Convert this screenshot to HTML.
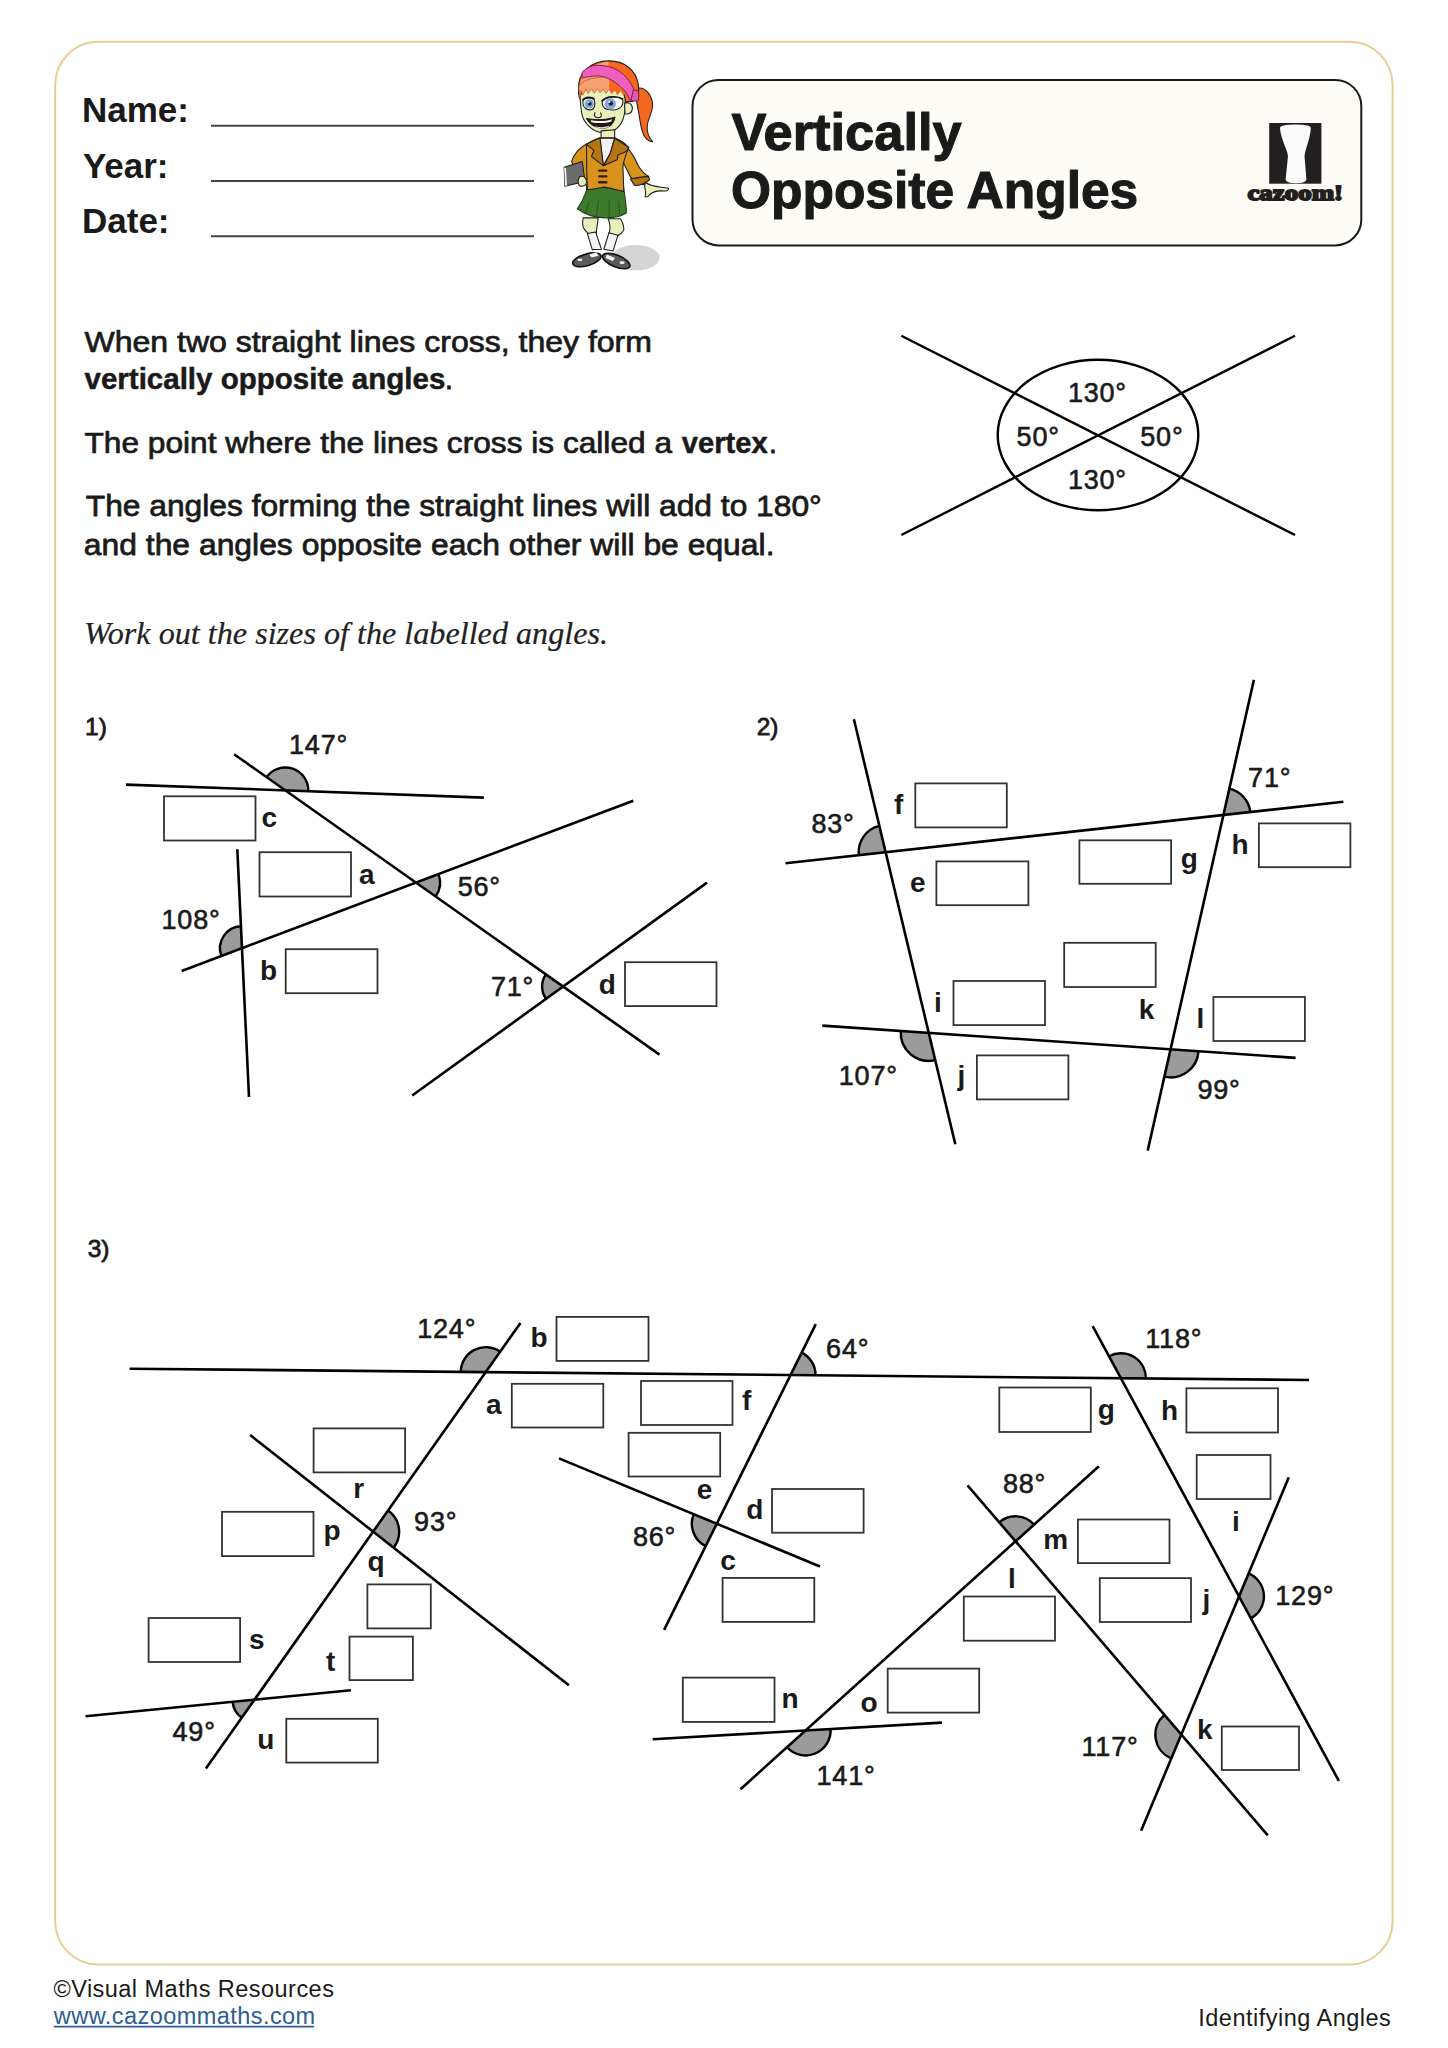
<!DOCTYPE html>
<html><head><meta charset="utf-8"><title>Vertically Opposite Angles</title>
<style>html,body{margin:0;padding:0;background:#fff;}svg{display:block;}</style></head>
<body><svg width="1448" height="2048" viewBox="0 0 1448 2048">
<rect width="1448" height="2048" fill="#fff"/>
<rect x="55.2" y="41.8" width="1337.4" height="1922.7" rx="43" ry="43" fill="none" stroke="#e8cd92" stroke-width="2.0"/>
<text x="82" y="122.4" font-family="'Liberation Sans', sans-serif" font-size="35" font-weight="bold" font-style="normal" fill="#1a1a1a">Name:</text>
<text x="82.9" y="177.9" font-family="'Liberation Sans', sans-serif" font-size="35" font-weight="bold" font-style="normal" fill="#1a1a1a">Year:</text>
<text x="82" y="233.1" font-family="'Liberation Sans', sans-serif" font-size="35" font-weight="bold" font-style="normal" fill="#1a1a1a">Date:</text>
<line x1="211" y1="125.7" x2="534" y2="125.7" stroke="#444" stroke-width="2"/>
<line x1="211" y1="181.1" x2="534" y2="181.1" stroke="#444" stroke-width="2"/>
<line x1="211" y1="236.3" x2="534" y2="236.3" stroke="#444" stroke-width="2"/>
<rect x="692.5" y="80" width="668.8" height="165.4" rx="26" ry="26" fill="#fdfcf6" stroke="#1a1a1a" stroke-width="2.0"/>
<text transform="translate(731.4 0) scale(1.0184 1)" x="0" y="150.2" font-family="'Liberation Sans', sans-serif" font-size="51.5" font-weight="bold" font-style="normal" fill="#1a1a1a" stroke="#1a1a1a" stroke-width="1.1" stroke-linejoin="round">Vertically</text>
<text transform="translate(730.9 0) scale(1.0003 1)" x="0" y="208.1" font-family="'Liberation Sans', sans-serif" font-size="51.5" font-weight="bold" font-style="normal" fill="#1a1a1a" stroke="#1a1a1a" stroke-width="1.1" stroke-linejoin="round">Opposite Angles</text>
<text transform="translate(84.5 0) scale(1.0671 1)" x="0" y="352" font-family="'Liberation Sans', sans-serif" font-size="30" font-weight="normal" font-style="normal" fill="#1a1a1a" stroke="#1a1a1a" stroke-width="0.75" stroke-linejoin="round">When two straight lines cross, they form</text>
<text transform="translate(84.5 0) scale(0.9843 1)" x="0" y="389.1" font-family="'Liberation Sans', sans-serif" font-size="30" font-weight="bold" font-style="normal" fill="#1a1a1a" stroke="#1a1a1a" stroke-width="0.5" stroke-linejoin="round">vertically opposite angles</text>
<text x="444.8" y="389.1" font-family="'Liberation Sans', sans-serif" font-size="30" font-weight="normal" font-style="normal" fill="#1a1a1a" stroke="#1a1a1a" stroke-width="0.75" stroke-linejoin="round">.</text>
<text transform="translate(84.5 0) scale(1.0552 1)" x="0" y="452.6" font-family="'Liberation Sans', sans-serif" font-size="30" font-weight="normal" font-style="normal" fill="#1a1a1a" stroke="#1a1a1a" stroke-width="0.75" stroke-linejoin="round">The point where the lines cross is called a</text>
<text transform="translate(681.7 0) scale(0.9720 1)" x="0" y="452.6" font-family="'Liberation Sans', sans-serif" font-size="30" font-weight="bold" font-style="normal" fill="#1a1a1a" stroke="#1a1a1a" stroke-width="0.5" stroke-linejoin="round">vertex</text>
<text x="768.8" y="452.6" font-family="'Liberation Sans', sans-serif" font-size="30" font-weight="normal" font-style="normal" fill="#1a1a1a" stroke="#1a1a1a" stroke-width="0.75" stroke-linejoin="round">.</text>
<text transform="translate(85.8 0) scale(1.0582 1)" x="0" y="516.5" font-family="'Liberation Sans', sans-serif" font-size="30" font-weight="normal" font-style="normal" fill="#1a1a1a" stroke="#1a1a1a" stroke-width="0.75" stroke-linejoin="round">The angles forming the straight lines will add to 180°</text>
<text transform="translate(83.8 0) scale(1.0621 1)" x="0" y="555.4" font-family="'Liberation Sans', sans-serif" font-size="30" font-weight="normal" font-style="normal" fill="#1a1a1a" stroke="#1a1a1a" stroke-width="0.75" stroke-linejoin="round">and the angles opposite each other will be equal.</text>
<text transform="translate(83.9 0) scale(1.0216 1)" x="0" y="644.4" font-family="'Liberation Serif', serif" font-size="31.5" font-weight="normal" font-style="italic" fill="#222" stroke="#222" stroke-width="0.2" stroke-linejoin="round">Work out the sizes of the labelled angles.</text>
<line x1="901.3" y1="335.8" x2="1295" y2="535" stroke="#000" stroke-width="2.4"/>
<line x1="901.3" y1="535" x2="1295" y2="335.8" stroke="#000" stroke-width="2.4"/>
<ellipse cx="1098" cy="435" rx="100.3" ry="75.2" fill="none" stroke="#000" stroke-width="2.4"/>
<text x="1067.9" y="401.6" font-family="'Liberation Sans', sans-serif" font-size="27" font-weight="normal" font-style="normal" fill="#1a1a1a" letter-spacing="0.8" stroke="#1a1a1a" stroke-width="0.6" stroke-linejoin="round">130°</text>
<text x="1016.6" y="445.7" font-family="'Liberation Sans', sans-serif" font-size="27" font-weight="normal" font-style="normal" fill="#1a1a1a" letter-spacing="0.8" stroke="#1a1a1a" stroke-width="0.6" stroke-linejoin="round">50°</text>
<text x="1140.3" y="445.7" font-family="'Liberation Sans', sans-serif" font-size="27" font-weight="normal" font-style="normal" fill="#1a1a1a" letter-spacing="0.8" stroke="#1a1a1a" stroke-width="0.6" stroke-linejoin="round">50°</text>
<text x="1067.9" y="489.1" font-family="'Liberation Sans', sans-serif" font-size="27" font-weight="normal" font-style="normal" fill="#1a1a1a" letter-spacing="0.8" stroke="#1a1a1a" stroke-width="0.6" stroke-linejoin="round">130°</text>
<text x="85" y="734.8" font-family="'Liberation Sans', sans-serif" font-size="24.5" font-weight="normal" font-style="normal" fill="#1a1a1a" stroke="#1a1a1a" stroke-width="0.8" stroke-linejoin="round">1)</text>
<path d="M285.3 790.4L308.3 791.2A23 23 0 0 0 266.6 777.1Z" fill="#9b9b9b" stroke="none"/>
<path d="M308.3 791.2A23 23 0 0 0 266.6 777.1" fill="none" stroke="#000" stroke-width="2.4"/>
<path d="M416 882.6L435.6 896.5A24 24 0 0 0 438.5 874.2Z" fill="#9b9b9b" stroke="none"/>
<path d="M435.6 896.5A24 24 0 0 0 438.5 874.2" fill="none" stroke="#000" stroke-width="2.4"/>
<path d="M242 948.3L221.4 956A22 22 0 0 1 240.9 926.3Z" fill="#9b9b9b" stroke="none"/>
<path d="M221.4 956A22 22 0 0 1 240.9 926.3" fill="none" stroke="#000" stroke-width="2.4"/>
<path d="M563.1 986.5L545.9 974.4A21 21 0 0 0 546.1 998.8Z" fill="#9b9b9b" stroke="none"/>
<path d="M545.9 974.4A21 21 0 0 0 546.1 998.8" fill="none" stroke="#000" stroke-width="2.4"/>
<line x1="126" y1="784.6" x2="483.8" y2="797.6" stroke="#000" stroke-width="2.6"/>
<line x1="234.1" y1="754.2" x2="659.5" y2="1054.6" stroke="#000" stroke-width="2.6"/>
<line x1="181.7" y1="971" x2="633.3" y2="800.7" stroke="#000" stroke-width="2.6"/>
<line x1="237.3" y1="849.3" x2="249" y2="1097" stroke="#000" stroke-width="2.6"/>
<line x1="412.2" y1="1095.5" x2="707" y2="882.6" stroke="#000" stroke-width="2.6"/>
<rect x="164" y="796.3" width="91.5" height="44.2" fill="#fff" stroke="#333" stroke-width="1.8"/>
<text x="261.6" y="827.4" font-family="'Liberation Sans', sans-serif" font-size="28" font-weight="bold" font-style="normal" fill="#1a1a1a">c</text>
<rect x="259.5" y="852.2" width="91.5" height="44.3" fill="#fff" stroke="#333" stroke-width="1.8"/>
<text x="359" y="884" font-family="'Liberation Sans', sans-serif" font-size="28" font-weight="bold" font-style="normal" fill="#1a1a1a">a</text>
<text x="289" y="753.8" font-family="'Liberation Sans', sans-serif" font-size="27" font-weight="normal" font-style="normal" fill="#1a1a1a" letter-spacing="0.8" stroke="#1a1a1a" stroke-width="0.6" stroke-linejoin="round">147°</text>
<text x="161.5" y="929.2" font-family="'Liberation Sans', sans-serif" font-size="27" font-weight="normal" font-style="normal" fill="#1a1a1a" letter-spacing="0.8" stroke="#1a1a1a" stroke-width="0.6" stroke-linejoin="round">108°</text>
<text x="457.7" y="895.9" font-family="'Liberation Sans', sans-serif" font-size="27" font-weight="normal" font-style="normal" fill="#1a1a1a" letter-spacing="0.8" stroke="#1a1a1a" stroke-width="0.6" stroke-linejoin="round">56°</text>
<text x="260" y="980.2" font-family="'Liberation Sans', sans-serif" font-size="28" font-weight="bold" font-style="normal" fill="#1a1a1a">b</text>
<rect x="285.7" y="949.2" width="91.8" height="44" fill="#fff" stroke="#333" stroke-width="1.8"/>
<text x="490.9" y="996.4" font-family="'Liberation Sans', sans-serif" font-size="27" font-weight="normal" font-style="normal" fill="#1a1a1a" letter-spacing="0.8" stroke="#1a1a1a" stroke-width="0.6" stroke-linejoin="round">71°</text>
<text x="598.8" y="993.5" font-family="'Liberation Sans', sans-serif" font-size="28" font-weight="bold" font-style="normal" fill="#1a1a1a">d</text>
<rect x="625" y="962.2" width="91.5" height="43.9" fill="#fff" stroke="#333" stroke-width="1.8"/>
<text x="756.7" y="735.1" font-family="'Liberation Sans', sans-serif" font-size="24.5" font-weight="normal" font-style="normal" fill="#1a1a1a" stroke="#1a1a1a" stroke-width="0.8" stroke-linejoin="round">2)</text>
<path d="M885.6 852.2L858.8 855.1A27 27 0 0 1 879.4 825.9Z" fill="#9b9b9b" stroke="none"/>
<path d="M858.8 855.1A27 27 0 0 1 879.4 825.9" fill="none" stroke="#000" stroke-width="2.4"/>
<path d="M1223.4 815L1250.3 812.1A27 27 0 0 0 1229.4 788.7Z" fill="#9b9b9b" stroke="none"/>
<path d="M1250.3 812.1A27 27 0 0 0 1229.4 788.7" fill="none" stroke="#000" stroke-width="2.4"/>
<path d="M928.7 1032.9L900.8 1031A28 28 0 0 0 935.2 1060.1Z" fill="#9b9b9b" stroke="none"/>
<path d="M900.8 1031A28 28 0 0 0 935.2 1060.1" fill="none" stroke="#000" stroke-width="2.4"/>
<path d="M1170.5 1049.4L1198.5 1051.3A28 28 0 0 1 1164.4 1076.7Z" fill="#9b9b9b" stroke="none"/>
<path d="M1198.5 1051.3A28 28 0 0 1 1164.4 1076.7" fill="none" stroke="#000" stroke-width="2.4"/>
<line x1="853.9" y1="719.2" x2="955.3" y2="1144.2" stroke="#000" stroke-width="2.6"/>
<line x1="785.5" y1="863.2" x2="1343.4" y2="801.8" stroke="#000" stroke-width="2.6"/>
<line x1="1253.9" y1="679.9" x2="1147.7" y2="1150.6" stroke="#000" stroke-width="2.6"/>
<line x1="822.3" y1="1025.6" x2="1295.6" y2="1057.9" stroke="#000" stroke-width="2.6"/>
<text x="811.4" y="832.8" font-family="'Liberation Sans', sans-serif" font-size="27" font-weight="normal" font-style="normal" fill="#1a1a1a" letter-spacing="0.8" stroke="#1a1a1a" stroke-width="0.6" stroke-linejoin="round">83°</text>
<text x="894.1" y="814.2" font-family="'Liberation Sans', sans-serif" font-size="28" font-weight="bold" font-style="normal" fill="#1a1a1a">f</text>
<rect x="915.3" y="783.4" width="91.5" height="44" fill="#fff" stroke="#333" stroke-width="1.8"/>
<text x="909.9" y="891.8" font-family="'Liberation Sans', sans-serif" font-size="28" font-weight="bold" font-style="normal" fill="#1a1a1a">e</text>
<rect x="936.4" y="861.4" width="92" height="43.8" fill="#fff" stroke="#333" stroke-width="1.8"/>
<rect x="1079.4" y="840.3" width="91.7" height="43.5" fill="#fff" stroke="#333" stroke-width="1.8"/>
<text x="1180.7" y="867.7" font-family="'Liberation Sans', sans-serif" font-size="28" font-weight="bold" font-style="normal" fill="#1a1a1a">g</text>
<text x="1248.1" y="787.3" font-family="'Liberation Sans', sans-serif" font-size="27" font-weight="normal" font-style="normal" fill="#1a1a1a" letter-spacing="0.8" stroke="#1a1a1a" stroke-width="0.6" stroke-linejoin="round">71°</text>
<text x="1231.5" y="854" font-family="'Liberation Sans', sans-serif" font-size="28" font-weight="bold" font-style="normal" fill="#1a1a1a">h</text>
<rect x="1258.9" y="823.4" width="91.5" height="43.8" fill="#fff" stroke="#333" stroke-width="1.8"/>
<rect x="1064.2" y="942.8" width="91.5" height="44.2" fill="#fff" stroke="#333" stroke-width="1.8"/>
<text x="934.1" y="1012.4" font-family="'Liberation Sans', sans-serif" font-size="28" font-weight="bold" font-style="normal" fill="#1a1a1a">i</text>
<rect x="953.5" y="981" width="91.5" height="44.1" fill="#fff" stroke="#333" stroke-width="1.8"/>
<text x="1138.8" y="1018.8" font-family="'Liberation Sans', sans-serif" font-size="28" font-weight="bold" font-style="normal" fill="#1a1a1a">k</text>
<text x="1196.4" y="1028" font-family="'Liberation Sans', sans-serif" font-size="28" font-weight="bold" font-style="normal" fill="#1a1a1a">l</text>
<rect x="1213.4" y="997" width="91.5" height="44" fill="#fff" stroke="#333" stroke-width="1.8"/>
<text x="838.8" y="1084.9" font-family="'Liberation Sans', sans-serif" font-size="27" font-weight="normal" font-style="normal" fill="#1a1a1a" letter-spacing="0.8" stroke="#1a1a1a" stroke-width="0.6" stroke-linejoin="round">107°</text>
<text x="957.4" y="1085.2" font-family="'Liberation Sans', sans-serif" font-size="28" font-weight="bold" font-style="normal" fill="#1a1a1a">j</text>
<rect x="976.9" y="1055.4" width="91.5" height="44" fill="#fff" stroke="#333" stroke-width="1.8"/>
<text x="1197.4" y="1099.3" font-family="'Liberation Sans', sans-serif" font-size="27" font-weight="normal" font-style="normal" fill="#1a1a1a" letter-spacing="0.8" stroke="#1a1a1a" stroke-width="0.6" stroke-linejoin="round">99°</text>
<text x="87.7" y="1257.3" font-family="'Liberation Sans', sans-serif" font-size="24.5" font-weight="normal" font-style="normal" fill="#1a1a1a" stroke="#1a1a1a" stroke-width="0.8" stroke-linejoin="round">3)</text>
<path d="M485.8 1372.1L460.8 1371.9A25 25 0 0 1 500.2 1351.7Z" fill="#9b9b9b" stroke="none"/>
<path d="M460.8 1371.9A25 25 0 0 1 500.2 1351.7" fill="none" stroke="#000" stroke-width="2.4"/>
<path d="M373.1 1531.6L388.1 1510.4A26 26 0 0 1 393.6 1547.7Z" fill="#9b9b9b" stroke="none"/>
<path d="M388.1 1510.4A26 26 0 0 1 393.6 1547.7" fill="none" stroke="#000" stroke-width="2.4"/>
<path d="M254.5 1699.7L232.6 1701.8A22 22 0 0 0 241.8 1717.7Z" fill="#9b9b9b" stroke="none"/>
<path d="M232.6 1701.8A22 22 0 0 0 241.8 1717.7" fill="none" stroke="#000" stroke-width="2.4"/>
<path d="M790.5 1375L815.5 1375.3A25 25 0 0 0 801.6 1352.6Z" fill="#9b9b9b" stroke="none"/>
<path d="M815.5 1375.3A25 25 0 0 0 801.6 1352.6" fill="none" stroke="#000" stroke-width="2.4"/>
<path d="M716.8 1523.7L693.7 1514.2A25 25 0 0 0 705.7 1546.1Z" fill="#9b9b9b" stroke="none"/>
<path d="M693.7 1514.2A25 25 0 0 0 705.7 1546.1" fill="none" stroke="#000" stroke-width="2.4"/>
<path d="M805.7 1730.5L787.1 1747.2A25 25 0 0 0 830.6 1729Z" fill="#9b9b9b" stroke="none"/>
<path d="M787.1 1747.2A25 25 0 0 0 830.6 1729" fill="none" stroke="#000" stroke-width="2.4"/>
<path d="M1015.5 1541.3L999.3 1522.3A25 25 0 0 1 1034.1 1524.6Z" fill="#9b9b9b" stroke="none"/>
<path d="M999.3 1522.3A25 25 0 0 1 1034.1 1524.6" fill="none" stroke="#000" stroke-width="2.4"/>
<path d="M1120.9 1378.2L1109 1356.2A25 25 0 0 1 1145.9 1378.4Z" fill="#9b9b9b" stroke="none"/>
<path d="M1109 1356.2A25 25 0 0 1 1145.9 1378.4" fill="none" stroke="#000" stroke-width="2.4"/>
<path d="M1239 1596.4L1248.6 1573.4A25 25 0 0 1 1250.9 1618.4Z" fill="#9b9b9b" stroke="none"/>
<path d="M1248.6 1573.4A25 25 0 0 1 1250.9 1618.4" fill="none" stroke="#000" stroke-width="2.4"/>
<path d="M1181.3 1734.5L1164.4 1714.8A26 26 0 0 0 1171.3 1758.5Z" fill="#9b9b9b" stroke="none"/>
<path d="M1164.4 1714.8A26 26 0 0 0 1171.3 1758.5" fill="none" stroke="#000" stroke-width="2.4"/>
<line x1="129.6" y1="1368.7" x2="1309" y2="1380" stroke="#000" stroke-width="2.6"/>
<line x1="520.5" y1="1322.9" x2="205.9" y2="1768.5" stroke="#000" stroke-width="2.6"/>
<line x1="250.2" y1="1435.1" x2="568.9" y2="1685.3" stroke="#000" stroke-width="2.6"/>
<line x1="85.6" y1="1716.3" x2="350.9" y2="1690.2" stroke="#000" stroke-width="2.6"/>
<line x1="815.8" y1="1324.1" x2="664.1" y2="1629.9" stroke="#000" stroke-width="2.6"/>
<line x1="559" y1="1458.4" x2="820" y2="1566.5" stroke="#000" stroke-width="2.6"/>
<line x1="1098.9" y1="1466.2" x2="740.5" y2="1789.2" stroke="#000" stroke-width="2.6"/>
<line x1="652.7" y1="1739.3" x2="941.9" y2="1722.6" stroke="#000" stroke-width="2.6"/>
<line x1="967.5" y1="1485.3" x2="1267.8" y2="1835.4" stroke="#000" stroke-width="2.6"/>
<line x1="1092.7" y1="1326.1" x2="1338.9" y2="1781" stroke="#000" stroke-width="2.6"/>
<line x1="1288.8" y1="1477.3" x2="1141.1" y2="1830.7" stroke="#000" stroke-width="2.6"/>
<text x="417.2" y="1337.7" font-family="'Liberation Sans', sans-serif" font-size="27" font-weight="normal" font-style="normal" fill="#1a1a1a" letter-spacing="0.8" stroke="#1a1a1a" stroke-width="0.6" stroke-linejoin="round">124°</text>
<text x="530.4" y="1347.2" font-family="'Liberation Sans', sans-serif" font-size="28" font-weight="bold" font-style="normal" fill="#1a1a1a">b</text>
<rect x="556.5" y="1316.9" width="92" height="44" fill="#fff" stroke="#333" stroke-width="1.8"/>
<text x="486.1" y="1414.4" font-family="'Liberation Sans', sans-serif" font-size="28" font-weight="bold" font-style="normal" fill="#1a1a1a">a</text>
<rect x="511.8" y="1383.8" width="91.5" height="43.7" fill="#fff" stroke="#333" stroke-width="1.8"/>
<rect x="641" y="1381" width="91.5" height="44" fill="#fff" stroke="#333" stroke-width="1.8"/>
<text x="742" y="1409.9" font-family="'Liberation Sans', sans-serif" font-size="28" font-weight="bold" font-style="normal" fill="#1a1a1a">f</text>
<rect x="628.6" y="1432.8" width="91.6" height="43.7" fill="#fff" stroke="#333" stroke-width="1.8"/>
<text x="696.7" y="1499.2" font-family="'Liberation Sans', sans-serif" font-size="28" font-weight="bold" font-style="normal" fill="#1a1a1a">e</text>
<text x="826.1" y="1358.1" font-family="'Liberation Sans', sans-serif" font-size="27" font-weight="normal" font-style="normal" fill="#1a1a1a" letter-spacing="0.8" stroke="#1a1a1a" stroke-width="0.6" stroke-linejoin="round">64°</text>
<text x="746.3" y="1519.3" font-family="'Liberation Sans', sans-serif" font-size="28" font-weight="bold" font-style="normal" fill="#1a1a1a">d</text>
<rect x="772" y="1489" width="91.6" height="43.7" fill="#fff" stroke="#333" stroke-width="1.8"/>
<text x="632.9" y="1545.7" font-family="'Liberation Sans', sans-serif" font-size="27" font-weight="normal" font-style="normal" fill="#1a1a1a" letter-spacing="0.8" stroke="#1a1a1a" stroke-width="0.6" stroke-linejoin="round">86°</text>
<text x="720.2" y="1569.7" font-family="'Liberation Sans', sans-serif" font-size="28" font-weight="bold" font-style="normal" fill="#1a1a1a">c</text>
<rect x="722.6" y="1577.9" width="91.7" height="44" fill="#fff" stroke="#333" stroke-width="1.8"/>
<rect x="313.6" y="1428.4" width="91.5" height="44" fill="#fff" stroke="#333" stroke-width="1.8"/>
<text x="353.2" y="1497.9" font-family="'Liberation Sans', sans-serif" font-size="28" font-weight="bold" font-style="normal" fill="#1a1a1a">r</text>
<rect x="222" y="1511.8" width="91.5" height="44.3" fill="#fff" stroke="#333" stroke-width="1.8"/>
<text x="323.4" y="1539.7" font-family="'Liberation Sans', sans-serif" font-size="28" font-weight="bold" font-style="normal" fill="#1a1a1a">p</text>
<text x="414.1" y="1530.9" font-family="'Liberation Sans', sans-serif" font-size="27" font-weight="normal" font-style="normal" fill="#1a1a1a" letter-spacing="0.8" stroke="#1a1a1a" stroke-width="0.6" stroke-linejoin="round">93°</text>
<text x="367.6" y="1570.7" font-family="'Liberation Sans', sans-serif" font-size="28" font-weight="bold" font-style="normal" fill="#1a1a1a">q</text>
<rect x="367.4" y="1584.4" width="63.4" height="44" fill="#fff" stroke="#333" stroke-width="1.8"/>
<rect x="148.6" y="1618" width="91.5" height="44" fill="#fff" stroke="#333" stroke-width="1.8"/>
<text x="249.1" y="1649" font-family="'Liberation Sans', sans-serif" font-size="28" font-weight="bold" font-style="normal" fill="#1a1a1a">s</text>
<text x="326.1" y="1671" font-family="'Liberation Sans', sans-serif" font-size="28" font-weight="bold" font-style="normal" fill="#1a1a1a">t</text>
<rect x="349.5" y="1636.6" width="63.4" height="43.5" fill="#fff" stroke="#333" stroke-width="1.8"/>
<text x="172.5" y="1741.1" font-family="'Liberation Sans', sans-serif" font-size="27" font-weight="normal" font-style="normal" fill="#1a1a1a" letter-spacing="0.8" stroke="#1a1a1a" stroke-width="0.6" stroke-linejoin="round">49°</text>
<text x="257.2" y="1749.4" font-family="'Liberation Sans', sans-serif" font-size="28" font-weight="bold" font-style="normal" fill="#1a1a1a">u</text>
<rect x="286.3" y="1718.8" width="91.5" height="43.8" fill="#fff" stroke="#333" stroke-width="1.8"/>
<rect x="682.8" y="1677.6" width="91.7" height="44.3" fill="#fff" stroke="#333" stroke-width="1.8"/>
<text x="781.4" y="1707.7" font-family="'Liberation Sans', sans-serif" font-size="28" font-weight="bold" font-style="normal" fill="#1a1a1a">n</text>
<text x="860.5" y="1712" font-family="'Liberation Sans', sans-serif" font-size="28" font-weight="bold" font-style="normal" fill="#1a1a1a">o</text>
<rect x="887.7" y="1668.6" width="91.5" height="44" fill="#fff" stroke="#333" stroke-width="1.8"/>
<text x="816.5" y="1785.1" font-family="'Liberation Sans', sans-serif" font-size="27" font-weight="normal" font-style="normal" fill="#1a1a1a" letter-spacing="0.8" stroke="#1a1a1a" stroke-width="0.6" stroke-linejoin="round">141°</text>
<text x="1145.3" y="1347.5" font-family="'Liberation Sans', sans-serif" font-size="27" font-weight="normal" font-style="normal" fill="#1a1a1a" letter-spacing="0.8" stroke="#1a1a1a" stroke-width="0.6" stroke-linejoin="round">118°</text>
<rect x="999.3" y="1387.5" width="91.5" height="44.5" fill="#fff" stroke="#333" stroke-width="1.8"/>
<text x="1097.8" y="1418.5" font-family="'Liberation Sans', sans-serif" font-size="28" font-weight="bold" font-style="normal" fill="#1a1a1a">g</text>
<text x="1161" y="1419.9" font-family="'Liberation Sans', sans-serif" font-size="28" font-weight="bold" font-style="normal" fill="#1a1a1a">h</text>
<rect x="1186.4" y="1388.3" width="91.6" height="44.2" fill="#fff" stroke="#333" stroke-width="1.8"/>
<rect x="1196.7" y="1455" width="73.8" height="44" fill="#fff" stroke="#333" stroke-width="1.8"/>
<text x="1232" y="1530.5" font-family="'Liberation Sans', sans-serif" font-size="28" font-weight="bold" font-style="normal" fill="#1a1a1a">i</text>
<text x="1002.9" y="1493" font-family="'Liberation Sans', sans-serif" font-size="27" font-weight="normal" font-style="normal" fill="#1a1a1a" letter-spacing="0.8" stroke="#1a1a1a" stroke-width="0.6" stroke-linejoin="round">88°</text>
<text x="1043.2" y="1549.1" font-family="'Liberation Sans', sans-serif" font-size="28" font-weight="bold" font-style="normal" fill="#1a1a1a">m</text>
<rect x="1077.9" y="1519.5" width="91.6" height="43.6" fill="#fff" stroke="#333" stroke-width="1.8"/>
<text x="1007.9" y="1587.6" font-family="'Liberation Sans', sans-serif" font-size="28" font-weight="bold" font-style="normal" fill="#1a1a1a">l</text>
<rect x="963.8" y="1596.5" width="91.2" height="44.2" fill="#fff" stroke="#333" stroke-width="1.8"/>
<rect x="1099.8" y="1578.1" width="91.2" height="43.9" fill="#fff" stroke="#333" stroke-width="1.8"/>
<text x="1202.5" y="1609" font-family="'Liberation Sans', sans-serif" font-size="28" font-weight="bold" font-style="normal" fill="#1a1a1a">j</text>
<text x="1275.3" y="1605.4" font-family="'Liberation Sans', sans-serif" font-size="27" font-weight="normal" font-style="normal" fill="#1a1a1a" letter-spacing="0.8" stroke="#1a1a1a" stroke-width="0.6" stroke-linejoin="round">129°</text>
<text x="1081.5" y="1756.4" font-family="'Liberation Sans', sans-serif" font-size="27" font-weight="normal" font-style="normal" fill="#1a1a1a" letter-spacing="0.8" stroke="#1a1a1a" stroke-width="0.6" stroke-linejoin="round">117°</text>
<text x="1196.9" y="1738.5" font-family="'Liberation Sans', sans-serif" font-size="28" font-weight="bold" font-style="normal" fill="#1a1a1a">k</text>
<rect x="1221.8" y="1726.5" width="77.2" height="43.5" fill="#fff" stroke="#333" stroke-width="1.8"/>
<text x="53.4" y="1996.6" font-family="'Liberation Sans', sans-serif" font-size="23.5" font-weight="normal" font-style="normal" fill="#1a1a1a" textLength="280.5" lengthAdjust="spacing">©Visual Maths Resources</text>
<text x="53.8" y="2024.1" font-family="'Liberation Sans', sans-serif" font-size="23.5" font-weight="normal" font-style="normal" fill="#2e5c94" textLength="261.4" lengthAdjust="spacing">www.cazoommaths.com</text>
<line x1="53.8" y1="2026.6" x2="314" y2="2026.6" stroke="#2e5c94" stroke-width="1.6"/>
<text x="1198.3" y="2026.2" font-family="'Liberation Sans', sans-serif" font-size="23.5" font-weight="normal" font-style="normal" fill="#1a1a1a" textLength="192.5" lengthAdjust="spacing">Identifying Angles</text>
<rect x="1269.2" y="123" width="52.2" height="60.7" fill="#231f20"/>
<path d="M1280 128 Q1280 124.5 1295.4 124.5 Q1310.8 124.5 1310.8 128 C1310.5 138 1305.2 149 1304.5 156 L1306.4 179.5 Q1306.4 183.2 1296 183.2 Q1285.6 183.2 1285.6 179.5 L1288 156 C1287.2 149 1280.4 138 1280 128Z" fill="#fbfbfb"/>
<text transform="translate(1247.4 0) scale(1.2530 1)" x="0" y="199.8" font-family="'Liberation Serif', serif" font-size="21.5" font-weight="bold" font-style="normal" fill="#231f20" stroke="#231f20" stroke-width="1.8" stroke-linejoin="round">cazoom!</text>
<g transform="translate(540 50) scale(0.11722)"><ellipse cx="815" cy="1772" rx="205" ry="108" fill="#d4d4d4"/><path d="M820 330 C900 300 965 400 960 480 C955 560 905 600 915 680 C920 730 940 760 962 782 C925 785 890 750 875 700 C850 620 850 560 835 500 C825 450 815 400 820 330Z" fill="#f5661f" stroke="#1c1c1c" stroke-width="9" stroke-linejoin="round"/><path d="M330 330 C320 200 430 95 585 93 C720 92 820 170 840 300 C850 360 830 420 790 440 L360 440 C335 420 325 380 330 330Z" fill="#f7671e" stroke="#1c1c1c" stroke-width="9" stroke-linejoin="round"/><path d="M336 325 C340 215 440 110 585 100 L590 440 L360 430 C340 410 334 370 336 325Z" fill="#f9a070"/><path d="M343 414 C340 340 420 300 560 300 C680 300 730 350 726 450 C730 560 700 640 640 680 C600 705 560 712 525 706 C440 690 370 620 356 540 C350 500 344 460 343 414Z" fill="#e9f0b9" stroke="#1c1c1c" stroke-width="9" stroke-linejoin="round"/><path d="M722 455 C750 440 790 455 788 500 C786 535 760 550 725 545Z" fill="#e9f0b9" stroke="#1c1c1c" stroke-width="9" stroke-linejoin="round"/><path d="M332 330 L336 300 C380 250 480 225 600 230 C680 235 740 260 790 300 L800 360 L775 400 L740 350 L712 385 L690 345 L660 380 L640 340 L612 372 L590 335 L562 370 L540 332 L512 365 L490 330 L462 368 L440 330 L412 372 L392 332 L365 385 L350 345 L343 414Z" fill="#f9a070" stroke="#c4502a" stroke-width="6" stroke-linejoin="round"/><path d="M590 230 C680 235 740 260 790 300 L800 360 L775 400 L740 350 L712 385 L690 345 L660 380 L640 340 L612 372 L590 335Z" fill="#f7671e"/><path d="M358 190 C400 150 440 135 466 132 C520 128 560 135 595 144 C650 160 700 195 725 221 C755 255 775 285 784 303 C795 325 803 340 807 351 L772 433 C768 420 765 415 760 410 C740 370 725 345 701 327 C670 300 640 270 607 256 C570 235 530 222 489 221 C440 222 400 230 360 239Z" fill="#ee5fc0" stroke="#7a1d52" stroke-width="8" stroke-linejoin="round"/><path d="M796 339 L843 352 L840 433 L776 436Z" fill="#e05aa8" stroke="#7a1d52" stroke-width="8" stroke-linejoin="round"/><path d="M365 450 C365 405 420 400 460 420 C475 450 470 500 440 510 C400 515 368 495 365 450Z" fill="#f8f8f8" stroke="#1c1c1c" stroke-width="9" stroke-linejoin="round"/><path d="M530 450 C540 400 640 385 705 420 C715 470 690 510 620 512 C560 512 530 490 530 450Z" fill="#f8f8f8" stroke="#1c1c1c" stroke-width="9" stroke-linejoin="round"/><circle cx="420" cy="460" r="40" fill="#86a8d6"/><circle cx="600" cy="460" r="48" fill="#86a8d6"/><circle cx="424" cy="458" r="17" fill="#16223a"/><circle cx="605" cy="456" r="19" fill="#16223a"/><circle cx="414" cy="448" r="7" fill="#fff"/><circle cx="592" cy="444" r="8" fill="#fff"/><path d="M362 430 C390 395 440 400 465 420 M525 440 C560 395 650 385 710 420" fill="none" stroke="#1c1c1c" stroke-width="14"/><path d="M470 530 C455 560 470 580 500 578 C525 575 530 555 515 535" fill="none" stroke="#1c1c1c" stroke-width="9"/><path d="M395 585 C470 600 560 596 640 573 C630 630 590 665 540 668 C480 670 430 640 395 585Z" fill="#2a1414" stroke="#1c1c1c" stroke-width="9" stroke-linejoin="round"/><path d="M430 600 C500 612 570 606 615 590 L608 612 C560 625 490 628 440 616Z" fill="#ffffff"/><path d="M470 650 C510 665 560 662 590 645 L585 658 C550 672 505 672 475 660Z" fill="#e8e8e8"/><path d="M521 690 L637 680 L637 760 L521 760Z" fill="#e9f0b9" stroke="#1c1c1c" stroke-width="9" stroke-linejoin="round"/><path d="M397 1150 C500 1140 620 1150 712 1160 C725 1270 740 1330 736 1390 C690 1420 620 1432 552 1432 C470 1430 380 1400 319 1354 C350 1310 380 1250 397 1199Z" fill="#3d7a2c" stroke="#1c3a14" stroke-width="9" stroke-linejoin="round"/><path d="M420 1290 L390 1390 M500 1280 L480 1420 M590 1280 L590 1430 M670 1290 L680 1420" stroke="#244f1a" stroke-width="7"/><path d="M400 800 C330 840 285 900 270 950 L300 1040 L400 1110 L430 960Z" fill="#d9921b" stroke="#1c1c1c" stroke-width="9" stroke-linejoin="round"/><path d="M700 800 C760 830 800 900 840 990 C870 1040 900 1065 927 1078 L900 1150 C840 1150 800 1120 770 1080 L690 920Z" fill="#d9921b" stroke="#1c1c1c" stroke-width="9" stroke-linejoin="round"/><path d="M771 1100 C830 1090 890 1080 927 1078 L934 1107 C900 1140 840 1160 807 1156Z" fill="#b47412" stroke="#1c1c1c" stroke-width="9" stroke-linejoin="round"/><path d="M898 1128 C950 1170 1030 1165 1096 1180 C1102 1195 1085 1205 1040 1202 C990 1200 950 1215 925 1245 C905 1262 890 1255 900 1235 C910 1215 880 1175 898 1128Z" fill="#e9f0b9" stroke="#1c1c1c" stroke-width="9" stroke-linejoin="round"/><path d="M397 803 C450 770 500 748 521 748 L637 748 C690 770 730 800 757 831 C730 900 708 950 708 1000 L715 1206 C650 1195 590 1175 538 1170 C490 1180 440 1190 404 1192 C400 1100 396 950 397 803Z" fill="#d9921b" stroke="#1c1c1c" stroke-width="9" stroke-linejoin="round"/><path d="M510 753 L637 753 L600 880 L540 986 Z" fill="#f0f0f0" stroke="#1c1c1c" stroke-width="9" stroke-linejoin="round"/><path d="M512 748 L397 803 L460 859 L439 909 L540 986 Z" fill="#b47412" stroke="#1c1c1c" stroke-width="9" stroke-linejoin="round"/><path d="M637 753 L757 831 L736 866 L665 895 L658 937 L545 986 L600 880Z" fill="#b47412" stroke="#1c1c1c" stroke-width="9" stroke-linejoin="round"/><path d="M505 1029 L565 1029" stroke="#3a1a0c" stroke-width="20" stroke-linecap="round"/><path d="M505 1078 L565 1078" stroke="#3a1a0c" stroke-width="20" stroke-linecap="round"/><path d="M505 1128 L565 1128" stroke="#3a1a0c" stroke-width="20" stroke-linecap="round"/><path d="M206 1001 L361 951 L383 1121 L213 1163 Z" fill="#6b6b6b" stroke="#1c1c1c" stroke-width="9" stroke-linejoin="round"/><path d="M214 1005 L222 1158" stroke="#f0f0f0" stroke-width="16"/><path d="M340 1080 C370 1070 400 1090 397 1130 C395 1160 360 1168 335 1158 C320 1130 325 1100 340 1080Z" fill="#e9f0b9" stroke="#1c1c1c" stroke-width="9" stroke-linejoin="round"/><path d="M368 1432 C360 1470 365 1500 368 1510 C380 1540 405 1555 411 1570 L482 1560 C480 1520 495 1470 496 1432Z" fill="#e9f0b9" stroke="#1c1c1c" stroke-width="9" stroke-linejoin="round"/><path d="M580 1439 C600 1480 600 1530 588 1565 L665 1585 C700 1560 720 1540 715 1524 C715 1490 700 1460 687 1439Z" fill="#e9f0b9" stroke="#1c1c1c" stroke-width="9" stroke-linejoin="round"/><path d="M404 1566 L474 1552 L524 1700 L446 1703 Z" fill="#f4f4f4" stroke="#1c1c1c" stroke-width="9" stroke-linejoin="round"/><path d="M588 1559 L665 1580 L623 1715 L545 1700 Z" fill="#f4f4f4" stroke="#1c1c1c" stroke-width="9" stroke-linejoin="round"/><ellipse cx="400" cy="1790" rx="125" ry="50" transform="rotate(-16 400 1790)" fill="#5b5b5b" stroke="#111" stroke-width="14"/><ellipse cx="650" cy="1800" rx="125" ry="50" transform="rotate(22 650 1800)" fill="#5b5b5b" stroke="#111" stroke-width="14"/><path d="M420 1745 L480 1725 L500 1755 L440 1770Z" fill="#f2f2f2"/><path d="M570 1745 L640 1775 L620 1800 L560 1775Z" fill="#f2f2f2"/><ellipse cx="340" cy="1790" rx="22" ry="12" fill="#eee"/><ellipse cx="700" cy="1815" rx="22" ry="12" fill="#eee"/></g>
</svg></body></html>
